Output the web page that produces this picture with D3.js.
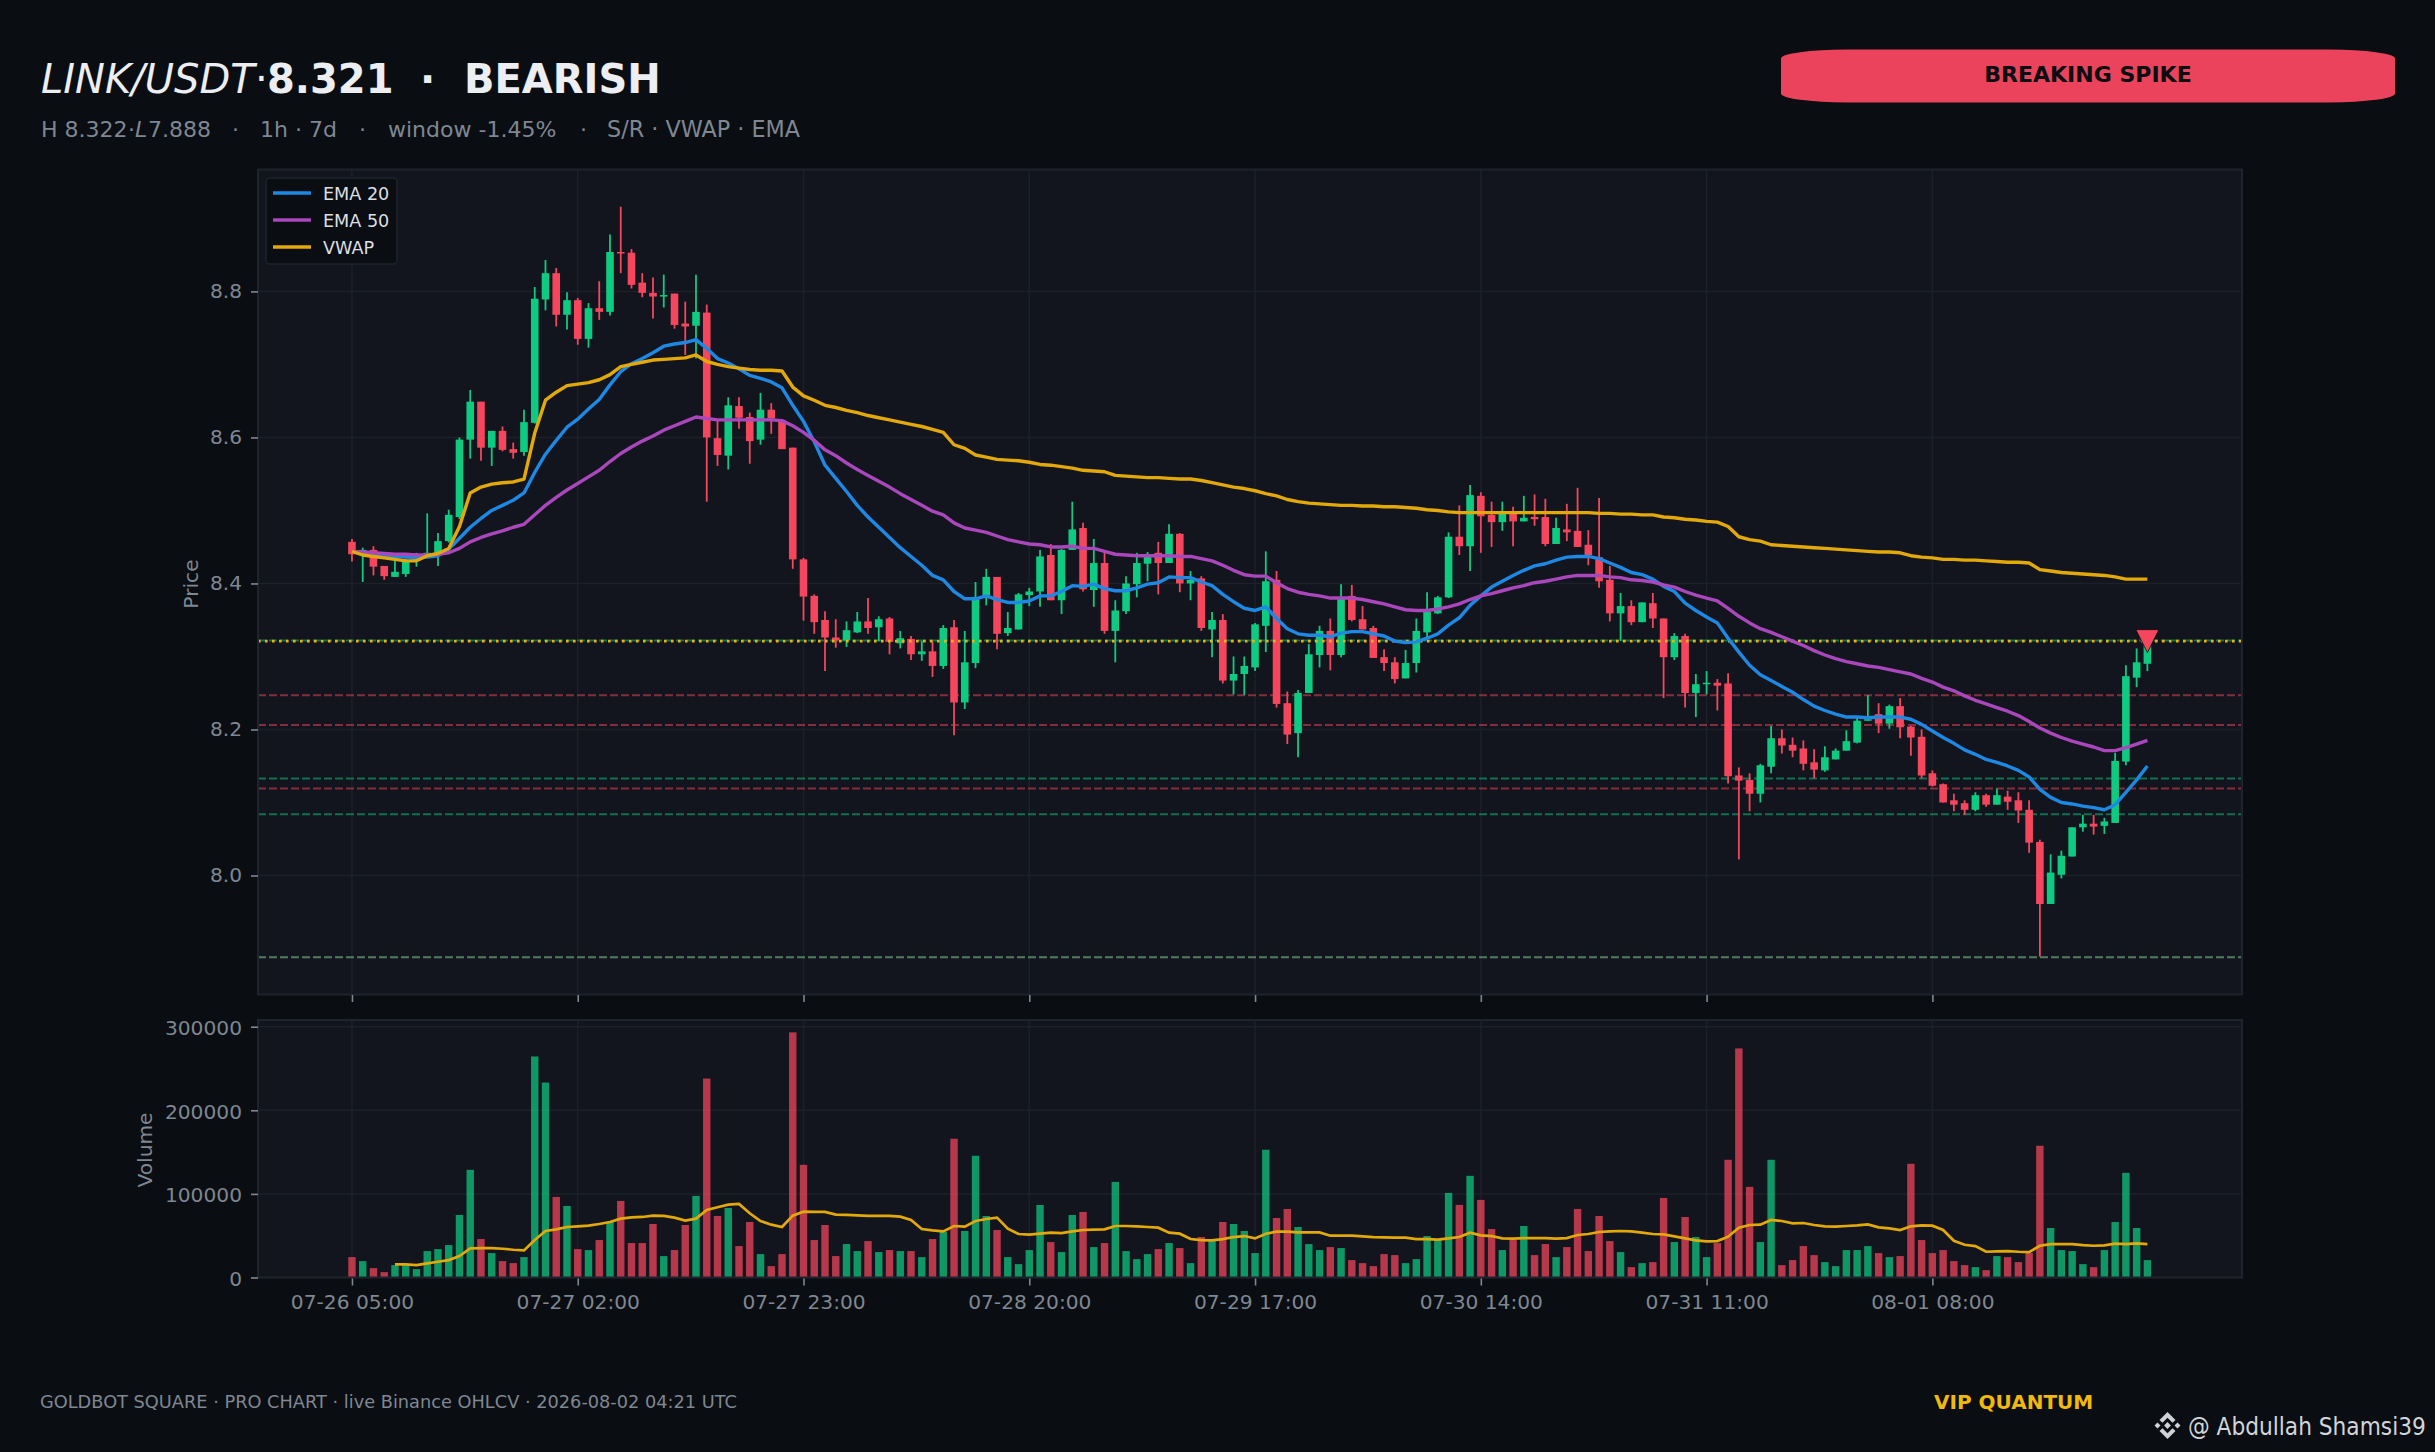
<!DOCTYPE html>
<html>
<head>
<meta charset="utf-8">
<script src="https://cdn.jsdelivr.net/npm/d3@7"></script>
<style>
  html, body { margin: 0; padding: 0; background: #0a0d11; }
  svg { display: block; }
  text { font-family: "DejaVu Sans", sans-serif; }
</style>
</head>
<body>
<svg id="chart" width="2435" height="1452"></svg>
<script>
// values, one entry per 1h candle
const open = [8.457,8.440,8.446,8.424,8.409,8.413,8.431,8.440,8.440,8.458,
  8.491,8.597,8.649,8.586,8.609,8.584,8.580,8.620,8.789,8.825,
  8.768,8.788,8.735,8.777,8.772,8.854,8.853,8.812,8.798,8.793,
  8.797,8.756,8.753,8.771,8.599,8.575,8.643,8.628,8.597,8.638,
  8.624,8.586,8.433,8.383,8.350,8.326,8.322,8.333,8.348,8.340,
  8.352,8.318,8.324,8.303,8.307,8.287,8.340,8.237,8.291,8.380,
  8.409,8.332,8.337,8.384,8.389,8.439,8.377,8.446,8.476,8.391,
  8.428,8.335,8.362,8.399,8.427,8.442,8.428,8.468,8.400,8.407,
  8.337,8.350,8.267,8.276,8.285,8.342,8.405,8.236,8.195,8.250,
  8.302,8.335,8.302,8.383,8.351,8.339,8.299,8.292,8.270,8.291,
  8.333,8.359,8.381,8.464,8.451,8.520,8.494,8.484,8.498,8.485,
  8.491,8.491,8.454,8.474,8.472,8.453,8.436,8.405,8.359,8.369,
  8.347,8.373,8.352,8.299,8.328,8.250,8.262,8.264,8.263,8.137,
  8.131,8.112,8.149,8.188,8.179,8.174,8.155,8.144,8.159,8.171,
  8.182,8.212,8.221,8.208,8.232,8.204,8.190,8.140,8.125,8.103,
  8.099,8.090,8.110,8.097,8.108,8.103,8.090,8.046,7.961,8.001,
  8.026,8.066,8.071,8.068,8.072,8.156,8.271,8.290];
const high = [8.461,8.449,8.451,8.424,8.432,8.434,8.442,8.496,8.469,8.501,
  8.600,8.665,8.649,8.609,8.615,8.593,8.638,8.806,8.843,8.832,
  8.799,8.791,8.784,8.814,8.878,8.916,8.858,8.825,8.819,8.823,
  8.797,8.786,8.823,8.782,8.624,8.655,8.655,8.634,8.661,8.647,
  8.624,8.586,8.435,8.385,8.362,8.351,8.348,8.361,8.380,8.355,
  8.354,8.335,8.328,8.321,8.320,8.343,8.350,8.335,8.402,8.420,
  8.409,8.361,8.387,8.394,8.446,8.454,8.447,8.512,8.483,8.461,
  8.442,8.377,8.410,8.442,8.443,8.457,8.481,8.469,8.417,8.410,
  8.361,8.358,8.300,8.300,8.346,8.444,8.417,8.252,8.254,8.317,
  8.342,8.352,8.399,8.398,8.369,8.342,8.310,8.299,8.309,8.352,
  8.388,8.383,8.470,8.507,8.535,8.525,8.512,8.512,8.505,8.520,
  8.522,8.516,8.490,8.509,8.531,8.473,8.517,8.424,8.387,8.377,
  8.374,8.387,8.352,8.332,8.331,8.276,8.280,8.269,8.277,8.148,
  8.140,8.153,8.205,8.200,8.189,8.185,8.173,8.177,8.174,8.199,
  8.218,8.247,8.236,8.234,8.243,8.205,8.200,8.144,8.126,8.112,
  8.103,8.114,8.112,8.119,8.116,8.114,8.103,8.049,8.029,8.034,
  8.066,8.083,8.083,8.079,8.168,8.288,8.311,8.322];
const low = [8.430,8.402,8.411,8.405,8.409,8.409,8.423,8.439,8.424,8.456,
  8.488,8.571,8.568,8.561,8.581,8.571,8.575,8.619,8.774,8.752,
  8.748,8.727,8.723,8.761,8.767,8.825,8.804,8.792,8.763,8.778,
  8.749,8.713,8.708,8.512,8.561,8.556,8.612,8.564,8.590,8.605,
  8.584,8.420,8.349,8.331,8.280,8.312,8.313,8.332,8.331,8.321,
  8.303,8.311,8.295,8.294,8.272,8.283,8.192,8.228,8.284,8.370,
  8.310,8.328,8.337,8.369,8.368,8.377,8.358,8.446,8.389,8.368,
  8.331,8.292,8.358,8.381,8.403,8.385,8.428,8.388,8.377,8.335,
  8.299,8.263,8.248,8.247,8.280,8.306,8.230,8.180,8.162,8.250,
  8.285,8.281,8.299,8.348,8.337,8.298,8.280,8.263,8.270,8.278,
  8.326,8.358,8.380,8.439,8.417,8.442,8.450,8.472,8.451,8.485,
  8.479,8.451,8.454,8.458,8.450,8.425,8.394,8.348,8.321,8.343,
  8.347,8.339,8.243,8.295,8.230,8.217,8.248,8.226,8.126,8.022,
  8.088,8.100,8.140,8.167,8.162,8.144,8.133,8.142,8.159,8.171,
  8.181,8.212,8.195,8.201,8.188,8.164,8.133,8.122,8.100,8.088,
  8.083,8.088,8.094,8.097,8.090,8.072,8.031,7.889,7.961,7.996,
  8.026,8.060,8.056,8.057,8.072,8.151,8.258,8.280];
const close = [8.440,8.446,8.423,8.410,8.416,8.432,8.439,8.442,8.458,8.494,
  8.597,8.649,8.586,8.609,8.583,8.579,8.621,8.790,8.825,8.768,
  8.788,8.735,8.777,8.772,8.854,8.852,8.809,8.798,8.793,8.795,
  8.754,8.752,8.772,8.600,8.576,8.644,8.627,8.595,8.638,8.626,
  8.584,8.433,8.382,8.347,8.326,8.322,8.336,8.348,8.339,8.351,
  8.320,8.325,8.303,8.307,8.287,8.339,8.237,8.292,8.380,8.409,
  8.331,8.339,8.385,8.389,8.437,8.377,8.446,8.474,8.392,8.428,
  8.335,8.363,8.400,8.428,8.437,8.428,8.468,8.400,8.405,8.339,
  8.350,8.267,8.276,8.287,8.344,8.403,8.235,8.193,8.250,8.303,
  8.335,8.302,8.379,8.350,8.337,8.298,8.291,8.269,8.291,8.335,
  8.361,8.381,8.464,8.451,8.521,8.492,8.484,8.496,8.485,8.490,
  8.488,8.454,8.476,8.470,8.450,8.439,8.403,8.359,8.369,8.347,
  8.374,8.352,8.299,8.328,8.250,8.262,8.264,8.260,8.136,8.130,
  8.112,8.151,8.188,8.178,8.171,8.153,8.145,8.162,8.171,8.184,
  8.212,8.214,8.208,8.232,8.203,8.189,8.137,8.123,8.100,8.097,
  8.090,8.110,8.097,8.110,8.101,8.089,8.045,7.961,8.004,8.027,
  8.066,8.071,8.067,8.074,8.157,8.273,8.292,8.321];
const ema20 = [8.444,8.442,8.440,8.438,8.437,8.436,8.435,8.436,8.438,8.447,
  8.462,8.477,8.489,8.500,8.507,8.514,8.524,8.552,8.577,8.596,
  8.614,8.625,8.639,8.652,8.672,8.690,8.701,8.708,8.716,8.725,
  8.728,8.730,8.734,8.722,8.708,8.702,8.694,8.685,8.681,8.676,
  8.668,8.644,8.622,8.594,8.562,8.544,8.526,8.507,8.491,8.477,
  8.463,8.449,8.437,8.425,8.411,8.405,8.389,8.379,8.379,8.383,
  8.378,8.374,8.374,8.376,8.383,8.383,8.389,8.397,8.396,8.399,
  8.393,8.390,8.390,8.394,8.399,8.401,8.409,8.408,8.408,8.402,
  8.397,8.385,8.375,8.366,8.363,8.368,8.352,8.338,8.331,8.329,
  8.329,8.327,8.332,8.334,8.334,8.331,8.328,8.321,8.319,8.320,
  8.325,8.331,8.343,8.353,8.370,8.383,8.395,8.403,8.411,8.418,
  8.424,8.427,8.432,8.436,8.437,8.437,8.434,8.428,8.422,8.415,
  8.412,8.406,8.396,8.389,8.373,8.363,8.354,8.346,8.325,8.306,
  8.288,8.275,8.267,8.259,8.251,8.241,8.232,8.226,8.221,8.217,
  8.217,8.216,8.217,8.217,8.217,8.214,8.207,8.198,8.189,8.181,
  8.172,8.166,8.159,8.155,8.150,8.144,8.135,8.118,8.107,8.100,
  8.098,8.095,8.093,8.090,8.097,8.114,8.131,8.150];
const ema50 = [8.444,8.443,8.442,8.441,8.440,8.440,8.439,8.439,8.440,8.442,
  8.448,8.457,8.463,8.468,8.472,8.477,8.481,8.494,8.507,8.518,
  8.528,8.537,8.546,8.555,8.567,8.578,8.587,8.595,8.602,8.610,
  8.616,8.622,8.628,8.626,8.624,8.624,8.624,8.624,8.624,8.624,
  8.623,8.616,8.607,8.596,8.583,8.575,8.565,8.556,8.548,8.540,
  8.532,8.523,8.515,8.507,8.499,8.494,8.483,8.476,8.473,8.470,
  8.465,8.460,8.457,8.454,8.453,8.450,8.450,8.451,8.448,8.448,
  8.444,8.440,8.439,8.438,8.438,8.438,8.438,8.437,8.437,8.434,
  8.431,8.425,8.418,8.412,8.410,8.410,8.401,8.393,8.388,8.385,
  8.383,8.380,8.380,8.380,8.378,8.375,8.372,8.368,8.364,8.363,
  8.363,8.365,8.368,8.372,8.378,8.383,8.386,8.390,8.394,8.397,
  8.401,8.403,8.406,8.409,8.411,8.411,8.411,8.409,8.408,8.405,
  8.404,8.402,8.398,8.395,8.389,8.384,8.380,8.376,8.366,8.355,
  8.346,8.338,8.333,8.327,8.321,8.315,8.308,8.302,8.297,8.293,
  8.290,8.287,8.285,8.282,8.279,8.276,8.270,8.265,8.258,8.253,
  8.246,8.240,8.235,8.230,8.225,8.219,8.211,8.202,8.195,8.189,
  8.184,8.180,8.176,8.171,8.171,8.175,8.180,8.185];
const vwap = [8.444,8.439,8.437,8.435,8.433,8.431,8.431,8.438,8.441,8.448,
  8.478,8.524,8.532,8.536,8.538,8.539,8.543,8.606,8.651,8.662,
  8.671,8.673,8.675,8.679,8.686,8.697,8.700,8.703,8.706,8.707,
  8.708,8.709,8.713,8.704,8.700,8.697,8.695,8.693,8.692,8.692,
  8.691,8.669,8.657,8.651,8.644,8.641,8.637,8.634,8.630,8.627,
  8.624,8.621,8.618,8.615,8.611,8.607,8.590,8.585,8.576,8.573,
  8.570,8.569,8.568,8.566,8.563,8.562,8.560,8.558,8.555,8.554,
  8.553,8.548,8.547,8.546,8.545,8.545,8.544,8.543,8.543,8.541,
  8.538,8.535,8.532,8.530,8.527,8.523,8.520,8.515,8.512,8.510,
  8.509,8.508,8.507,8.507,8.506,8.506,8.505,8.505,8.504,8.503,
  8.501,8.500,8.498,8.497,8.497,8.497,8.497,8.497,8.497,8.497,
  8.497,8.497,8.497,8.497,8.497,8.497,8.496,8.496,8.495,8.495,
  8.494,8.494,8.491,8.490,8.488,8.487,8.485,8.484,8.478,8.464,
  8.460,8.458,8.453,8.452,8.451,8.450,8.449,8.448,8.447,8.446,
  8.445,8.444,8.443,8.443,8.442,8.438,8.436,8.435,8.433,8.433,
  8.432,8.432,8.431,8.430,8.429,8.429,8.428,8.419,8.417,8.415,
  8.414,8.413,8.412,8.411,8.409,8.406,8.406,8.406];
const volume = [24400,19600,11200,6400,14800,14800,10000,31600,34000,38800,
  74800,128800,46000,29200,19600,17200,24400,264400,233200,96400,
  85600,34000,32800,44800,66400,91600,41200,41200,64000,25600,
  32800,62800,97600,238000,73600,83200,37600,66400,28000,13600,
  28000,293200,134800,44800,62800,25600,40000,31600,43600,30400,
  32800,31600,31600,24400,46000,54400,166000,55600,145600,73600,
  56800,24400,16000,32800,86800,42400,30400,74800,78400,36400,
  41200,114400,31600,22000,28000,34000,41200,35200,17200,48400,
  43600,66400,64000,55600,29200,152800,71200,82000,60400,40000,
  32800,36400,35200,20800,17200,13600,28000,26800,17200,22000,
  49600,44800,101200,86800,121600,92800,58000,32800,44800,61600,
  26800,40000,24400,36400,82000,31600,73600,43600,30400,12400,
  17200,18400,95200,42400,72400,48400,24400,41200,140800,274000,
  108400,42400,140800,14800,20800,37600,26800,18400,13600,32800,
  32800,37600,29200,24400,25600,136000,44800,29200,32800,19600,
  14800,12400,8800,25600,24400,18400,29200,157600,59200,32800,
  31600,16000,12400,32800,66400,125200,59200,20800];
const volumeAvg = [null,null,null,null,15600,15600,14800,16800,18800,20800,
  25600,34800,35200,35200,34400,33200,32400,44800,55600,57600,
  60400,61200,62000,64000,66400,70400,72000,72400,74000,73600,
  71600,68000,70400,80800,84000,87200,88000,76800,67600,63200,
  60400,74000,78800,78400,78400,75200,74800,74400,73600,73600,
  73600,72800,68800,58000,56400,55200,61600,60800,67600,70000,
  71600,58400,52000,51200,52400,53600,53200,55200,56800,57200,
  57600,61600,61600,61200,60400,59600,53600,52400,46000,44800,
  44400,46000,48400,49600,46800,52400,54800,54800,54000,54000,
  54000,50000,50000,50000,49200,48400,48000,47600,47600,46000,
  46000,45200,46800,48400,53600,50400,49600,46800,46400,47200,
  47200,47200,46400,47200,50800,52000,54400,55200,55600,55200,
  53600,52000,51600,49200,46800,44400,43200,43600,48800,59600,
  62800,63200,68800,67600,64800,65200,62800,61200,60800,61600,
  62400,63600,60000,58800,56800,61200,62400,62000,56800,44000,
  39200,37600,30800,31200,31600,30800,30400,38000,40000,40000,
  40000,38800,38000,38400,40400,40000,40800,40000];

const tickIndex = [0, 21, 42, 63, 84, 105, 126, 147];
const tickLabels = ["07-26 05:00", "07-27 02:00", "07-27 23:00", "07-28 20:00",
  "07-29 17:00", "07-30 14:00", "07-31 11:00", "08-01 08:00"];
const priceTicks = [8.0, 8.2, 8.4, 8.6, 8.8];
const volumeTicks = [0, 100000, 200000, 300000];
const resistance = [8.247, 8.206, 8.119, 7.888];
const support = [8.322, 8.133, 8.084, 7.888];
const lastPrice = 8.321;

const BG = "#0a0d11", PANEL = "#12151d", EDGE = "#1f232c", GRID = "#1c2029";
const UP = "#0ecb81", DOWN = "#f6465d", GOLD = "#f0b90b", MUTED = "#7f8792";

const svg = d3.select("#chart");
svg.append("rect").attr("width", 2435).attr("height", 1452).attr("fill", BG);

const x = d3.scaleLinear().domain([-8.74, 175.8]).range([258, 2242]);
const yPrice = d3.scaleLinear().domain([7.837, 8.967]).range([994.5, 169.5]);
const yVolume = d3.scaleLinear().domain([0, 308000]).range([1277.5, 1020]);

function panel(y0, y1) {
  svg.append("rect").attr("x", 258).attr("y", y0).attr("width", 1984).attr("height", y1 - y0)
    .attr("fill", PANEL);
}
function frame(y0, y1) {
  svg.append("rect").attr("x", 258).attr("y", y0).attr("width", 1984).attr("height", y1 - y0)
    .attr("fill", "none").attr("stroke", EDGE).attr("stroke-width", 2);
}
function styleAxis(g) {
  g.select(".domain").remove();
  g.selectAll(".tick line").attr("stroke", MUTED).attr("stroke-width", 1.6);
  g.selectAll(".tick text").attr("fill", MUTED).attr("font-size", 20.2)
    .attr("font-family", '"DejaVu Sans"');
}

panel(169.5, 994.5);
panel(1020, 1277.5);

// gridlines
const gridG = svg.append("g").attr("stroke", GRID).attr("stroke-width", 1.5);
tickIndex.forEach(i => {
  gridG.append("line").attr("x1", x(i)).attr("x2", x(i)).attr("y1", 169.5).attr("y2", 994.5);
  gridG.append("line").attr("x1", x(i)).attr("x2", x(i)).attr("y1", 1020).attr("y2", 1277.5);
});
priceTicks.forEach(p => {
  gridG.append("line").attr("x1", 258).attr("x2", 2242).attr("y1", yPrice(p)).attr("y2", yPrice(p));
});
volumeTicks.forEach(v => {
  gridG.append("line").attr("x1", 258).attr("x2", 2242).attr("y1", yVolume(v)).attr("y2", yVolume(v));
});

// S/R levels
function level(p, color) {
  svg.append("line").attr("x1", 258).attr("x2", 2242).attr("y1", yPrice(p)).attr("y2", yPrice(p))
    .attr("stroke", color).attr("stroke-opacity", 0.5).attr("stroke-width", 2)
    .attr("stroke-dasharray", "8 3");
}
resistance.forEach(p => level(p, DOWN));
support.forEach(p => level(p, UP));

// candles
const idx = d3.range(open.length);
const candleColor = i => close[i] >= open[i] ? UP : DOWN;
const bodyW = 7.6;

svg.append("g").selectAll("line").data(idx).join("line")
  .attr("x1", i => x(i)).attr("x2", i => x(i))
  .attr("y1", i => yPrice(high[i])).attr("y2", i => yPrice(low[i]))
  .attr("stroke", candleColor).attr("stroke-width", 1.8);

svg.append("g").selectAll("rect").data(idx).join("rect")
  .attr("x", i => x(i) - bodyW / 2).attr("width", bodyW)
  .attr("y", i => yPrice(Math.max(open[i], close[i])))
  .attr("height", i => Math.max(1.5, Math.abs(yPrice(open[i]) - yPrice(close[i]))))
  .attr("fill", candleColor);

// last price line
svg.append("line").attr("x1", 258).attr("x2", 2242)
  .attr("y1", yPrice(lastPrice)).attr("y2", yPrice(lastPrice))
  .attr("stroke", "#ecb40a").attr("stroke-width", 2.6).attr("stroke-dasharray", "2.6 4.4");

// overlays
const priceLine = d3.line().x((d, i) => x(i)).y(d => yPrice(d));
function overlay(values, color) {
  svg.append("path").attr("d", priceLine(values)).attr("fill", "none")
    .attr("stroke", color).attr("stroke-width", 3.4).attr("stroke-linejoin", "round");
}
overlay(ema20, "#1e88e5");
overlay(ema50, "#ab47bc");
overlay(vwap, "#e3a90a");

// signal marker
const mx = x(idx.length - 1), my = yPrice(lastPrice);
svg.append("path").attr("d", `M${mx - 11.5},${my - 11.5}L${mx + 11.5},${my - 11.5}L${mx},${my + 11.5}Z`)
  .attr("fill", DOWN).attr("stroke", BG).attr("stroke-width", 0.8);

// volume
svg.append("g").selectAll("rect").data(idx).join("rect")
  .attr("x", i => x(i) - 3.7).attr("width", 7.4)
  .attr("y", i => yVolume(volume[i]))
  .attr("height", i => yVolume(0) - yVolume(volume[i]))
  .attr("fill", candleColor).attr("opacity", 0.72);

const volLine = d3.line().defined(d => d !== null).x((d, i) => x(i)).y(d => yVolume(d));
svg.append("path").attr("d", volLine(volumeAvg)).attr("fill", "none")
  .attr("stroke", "#e3a90a").attr("stroke-width", 2.7);

frame(169.5, 994.5);
frame(1020, 1277.5);

// axes
svg.append("g").attr("transform", "translate(258,0)")
  .call(d3.axisLeft(yPrice).tickValues(priceTicks).tickFormat(d3.format(".1f")).tickSize(7).tickPadding(9))
  .call(styleAxis);
svg.append("g").attr("transform", "translate(258,0)")
  .call(d3.axisLeft(yVolume).tickValues(volumeTicks).tickFormat(d3.format("d")).tickSize(7).tickPadding(9))
  .call(styleAxis)
  .selectAll(".tick text").attr("dy", "0.4em");
svg.append("g").attr("transform", "translate(0,995)")
  .call(d3.axisBottom(x).tickValues(tickIndex).tickFormat("").tickSize(7))
  .call(styleAxis);
svg.append("g").attr("transform", "translate(0,1278.5)")
  .call(d3.axisBottom(x).tickValues(tickIndex).tickFormat((d, i) => tickLabels[i]).tickSize(7).tickPadding(9))
  .call(styleAxis);

svg.append("text").attr("transform", "translate(198,584) rotate(-90)").attr("text-anchor", "middle")
  .attr("fill", MUTED).attr("font-size", 20.2).text("Price");
svg.append("text").attr("transform", "translate(152,1150) rotate(-90)").attr("text-anchor", "middle")
  .attr("fill", MUTED).attr("font-size", 20.2).text("Volume");

// legend
svg.append("rect").attr("x", 266).attr("y", 178).attr("width", 131).attr("height", 86).attr("rx", 4)
  .attr("fill", BG).attr("stroke", EDGE).attr("stroke-width", 1.5);
[["EMA 20", "#1e88e5"], ["EMA 50", "#ab47bc"], ["VWAP", "#e3a90a"]].forEach((item, k) => {
  const ly = 193 + k * 27;
  svg.append("line").attr("x1", 273).attr("x2", 311).attr("y1", ly).attr("y2", ly)
    .attr("stroke", item[1]).attr("stroke-width", 3.4);
  svg.append("text").attr("x", 323).attr("y", ly + 7).attr("fill", "#dcdfe3").attr("font-size", 17.6)
    .text(item[0]);
});

// header
const title = svg.append("text").attr("y", 93).attr("font-size", 40).attr("fill", "#eceef1");
title.append("tspan").attr("x", 41).attr("font-style", "italic").text("LINK/USDT");
title.append("tspan").attr("x", 255).text("·");
title.append("tspan").attr("x", 267).attr("font-weight", "bold").text("8.321");
title.append("tspan").attr("x", 420).attr("font-weight", "bold").text("·");
title.append("tspan").attr("x", 464).attr("font-weight", "bold").text("BEARISH");

const sub = svg.append("text").attr("y", 137).attr("font-size", 22).attr("fill", MUTED);
sub.append("tspan").attr("x", 41).text("H 8.322");
sub.append("tspan").attr("x", 128).text("·");
sub.append("tspan").attr("x", 135).attr("font-style", "italic").text("L");
sub.append("tspan").attr("x", 148).text("7.888");
sub.append("tspan").attr("x", 232).text("·");
sub.append("tspan").attr("x", 260).text("1h · 7d");
sub.append("tspan").attr("x", 359).text("·");
sub.append("tspan").attr("x", 388).text("window -1.45%");
sub.append("tspan").attr("x", 580).text("·");
sub.append("tspan").attr("x", 607).attr("font-size", 22.3).text("S/R · VWAP · EMA");

svg.append("rect").attr("x", 1781).attr("y", 49.5).attr("width", 614).attr("height", 53)
  .attr("rx", 65).attr("ry", 9).attr("fill", "#ea435b");
svg.append("text").attr("x", 2088).attr("y", 82).attr("text-anchor", "middle")
  .attr("font-size", 22).attr("font-weight", "bold").attr("fill", BG).text("BREAKING SPIKE");

// footer
svg.append("text").attr("x", 40).attr("y", 1408).attr("font-size", 17.75).attr("fill", MUTED)
  .text("GOLDBOT SQUARE · PRO CHART · live Binance OHLCV · 2026-08-02 04:21 UTC");
svg.append("text").attr("x", 1934).attr("y", 1409).attr("font-size", 20).attr("font-weight", "bold")
  .attr("fill", GOLD).text("VIP QUANTUM");

// watermark
const logo = svg.append("g").attr("transform", "translate(2167.5,1425.5)").attr("fill", "#cfd2d6");
logo.append("path").attr("d", "M0,-3.4L3.4,0L0,3.4L-3.4,0Z");
logo.append("path").attr("d", "M-10,-3L-13,0L-10,3L-7,0Z");
logo.append("path").attr("d", "M10,-3L13,0L10,3L7,0Z");
logo.append("path").attr("d", "M0,-13.5L8,-5.5L5,-2.7L0,-7.7L-5,-2.7L-8,-5.5Z");
logo.append("path").attr("d", "M0,13.5L8,5.5L5,2.7L0,7.7L-5,2.7L-8,5.5Z");
// squeeze to the narrow width the watermark has in the reference
const mark = svg.append("text").attr("font-family", '"Noto Sans"').attr("font-size", 24)
  .attr("fill", "#d2d5d9").text("@ Abdullah Shamsi39");
mark.attr("transform", `translate(2188,1435) scale(${238 / mark.node().getComputedTextLength()},1)`);
</script>
</body>
</html>
